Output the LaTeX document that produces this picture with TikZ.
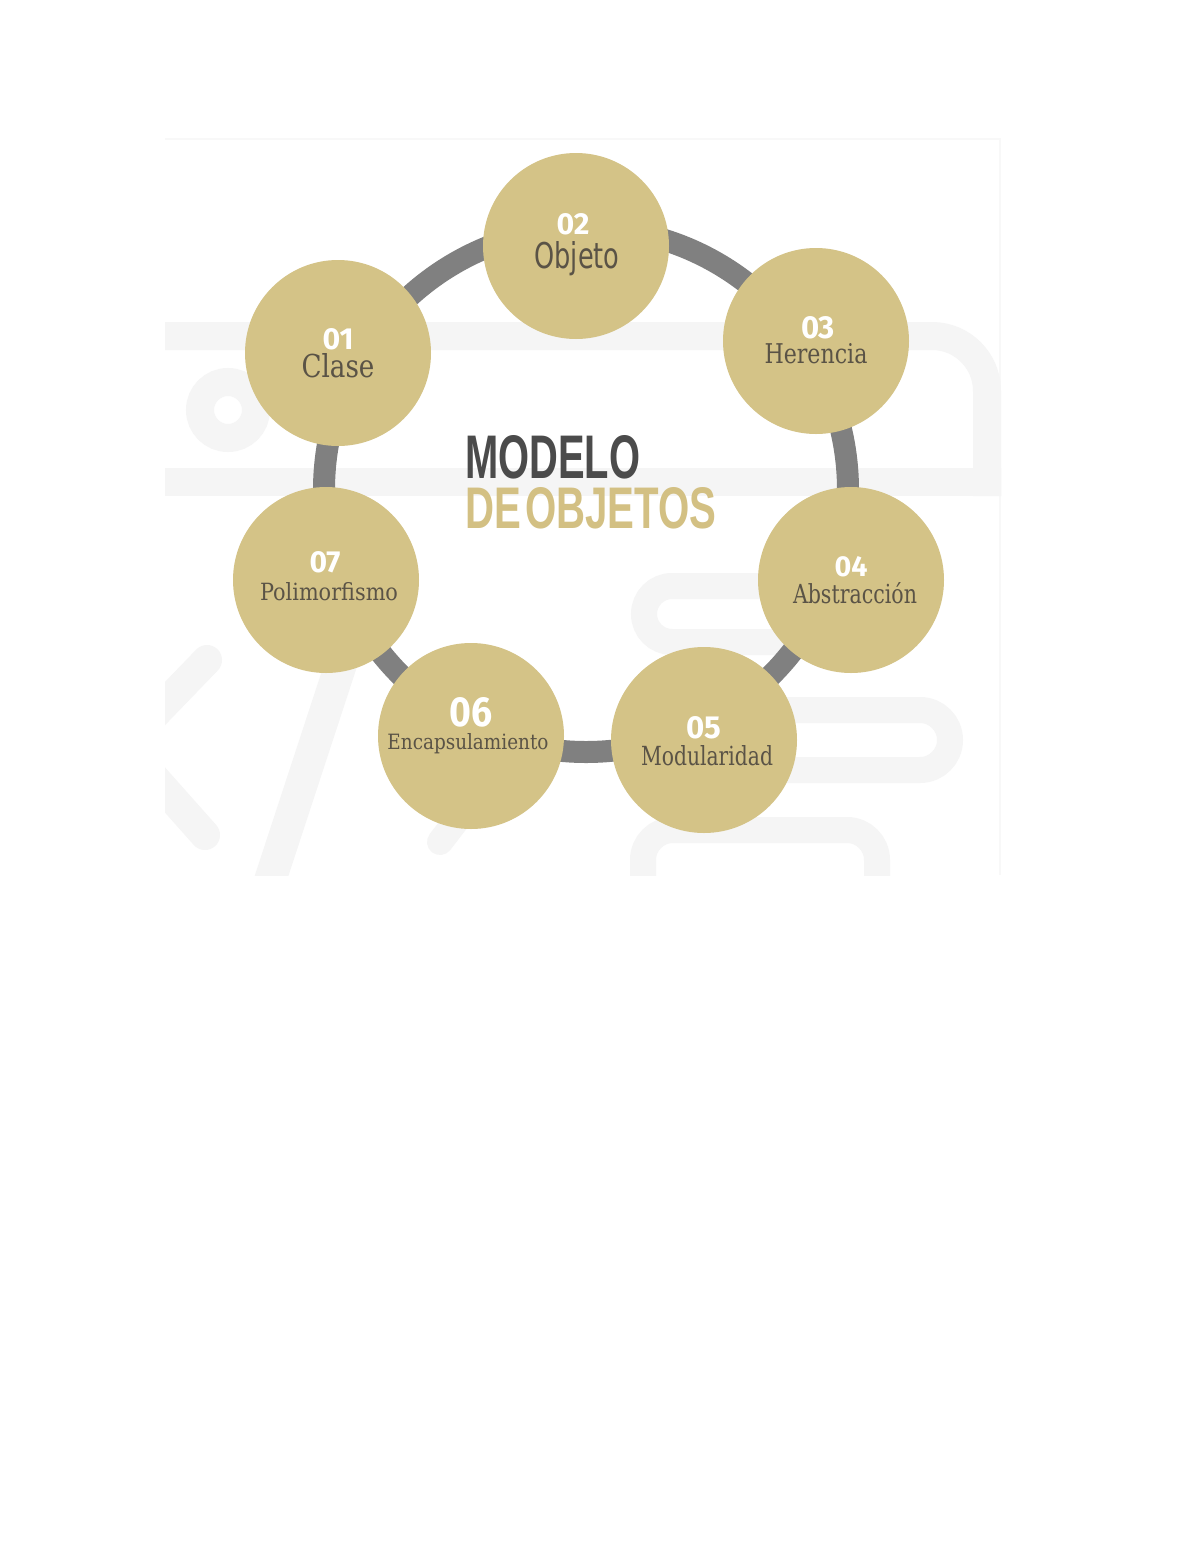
\documentclass[tikz,border=0pt]{standalone}
\usepackage{fontspec}
\usepackage{graphicx}
\newfontfamily\numfont{Fira Sans}
\newfontfamily\slabfont{DejaVu Serif}
\newfontfamily\plainsans{DejaVu Sans}
\newfontfamily\ttlfont{Liberation Sans}
\definecolor{gold}{HTML}{D4C387}
\definecolor{goldtitle}{HTML}{D3C083}
\definecolor{ringgray}{HTML}{808080}
\definecolor{lbl}{HTML}{5A5346}
\definecolor{ttldark}{HTML}{4B4B4B}
\definecolor{bgpat}{HTML}{F5F5F5}
\newcommand\bnum[3]{\resizebox{#1pt}{#2pt}{\numfont\bfseries #3}}
\newcommand\blbl[3]{\resizebox{#1pt}{#2pt}{\slabfont #3}}
\tikzset{
  bubble/.style={circle,fill=gold,minimum size=186pt,inner sep=0pt},
  numtext/.style={anchor=base,inner sep=0pt,text=white},
  lbltext/.style={anchor=base,inner sep=0pt,text=lbl},
  pat/.style={draw=bgpat,line width=28pt,line cap=round},
  ringline/.style={draw=ringgray,line width=22pt}
}
\begin{document}
\begin{tikzpicture}[x=1pt,y=-1pt]
\useasboundingbox (0,0) rectangle (1200,1553);
\fill[white] (0,0) rectangle (1200,1553);
% faint background pattern
\begin{scope}
\clip (165,138) rectangle (1001,875);
\draw[draw=bgpat!70!white,line width=2pt] (165,139) -- (1001,139);
\draw[draw=bgpat!70!white,line width=2pt] (1000,139) -- (1000,875);
\draw[pat,line cap=butt,rounded corners=55pt] (150,336) -- (987,336) -- (987,496);
\draw[pat,line cap=butt] (150,482) -- (1010,482);
\draw[pat] (228,410) circle[radius=28];
\draw[pat,line width=30pt] (207,660) -- (125,745) -- (205,835);
\draw[pat,line width=32pt] (362,600) -- (262,905);
\draw[pat,line width=26pt] (440,842) -- (480,790);
\draw[pat,line width=26pt,rounded corners=28pt] (644,586) rectangle (900,642);
\draw[pat,line width=26pt,rounded corners=30pt] (670,710) rectangle (950,770);
\draw[pat,line width=26pt,rounded corners=30pt] (643,830) rectangle (877,920);
\end{scope}
% ring connecting the bubbles
\coordinate (ringc) at (586,490);
\draw[ringline] (ringc) circle[radius=262];
% bubbles
\node[bubble] (c1) at (338,353) {};
\node[bubble] (c2) at (576,246) {};
\node[bubble] (c3) at (816,341) {};
\node[bubble] (c4) at (851,580) {};
\node[bubble] (c5) at (704,740) {};
\node[bubble] (c6) at (471,736) {};
\node[bubble] (c7) at (326,580) {};
% numbers
\node[numtext] (n1) at (338,349) {\bnum{31}{21}{01}};
\node[numtext] (n2) at (573,234) {\bnum{33}{21}{02}};
\node[numtext] (n3) at (818,338) {\bnum{34}{22}{03}};
\node[numtext] (n4) at (851,576) {\bnum{33}{20}{04}};
\node[numtext] (n5) at (704,738) {\bnum{35}{22}{05}};
\node[numtext] (n6) at (471,726) {\bnum{43}{29}{06}};
\node[numtext] (n7) at (325,572) {\bnum{31}{21}{07}};
% labels
\node[lbltext] (l1) at (338,377) {\blbl{73}{24}{Clase}};
\node[lbltext] (l2) at (577,268) {\resizebox{85pt}{27pt}{\plainsans Objeto}};
\node[lbltext] (l3) at (816,363) {\blbl{103}{20}{Herencia}};
\node[lbltext] (l4) at (855,603) {\blbl{124}{21}{Abstracción}};
\node[lbltext] (l5) at (707,765) {\blbl{132}{20}{Modularidad}};
\node[lbltext] (l6) at (468,749) {\blbl{161}{16}{Encapsulamiento}};
\node[lbltext] (l7) at (329,600) {\blbl{138}{18}{Polimorfismo}};
% title
\node[anchor=north west,inner sep=0pt,text=ttldark] (t1) at (465,435)
  {\resizebox{175pt}{43pt}{\ttlfont\bfseries MODELO}};
\node[anchor=north west,inner sep=0pt,text=goldtitle] (t2) at (465,487)
  {\resizebox{251pt}{41pt}{\ttlfont\bfseries DE\hspace{0.1em}OBJETOS}};
\end{tikzpicture}
\end{document}
